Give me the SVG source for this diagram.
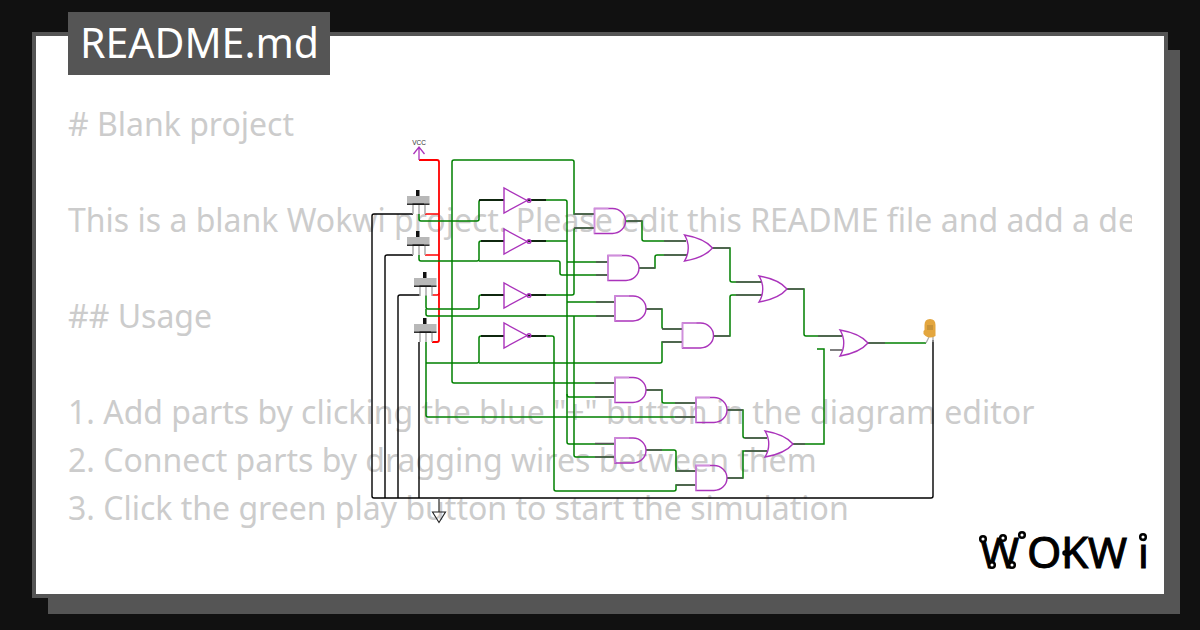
<svg xmlns="http://www.w3.org/2000/svg" width="1200" height="630" viewBox="0 0 1200 630">
<style>
.md{font-family:"Noto Sans","Open Sans",sans-serif;font-size:32px;fill:#cccccc}
.g{fill:none;stroke:#008000;stroke-width:1.500}
.r{fill:none;stroke:#ff0000;stroke-width:1.500}
.k{fill:none;stroke:#000;stroke-width:1.400}
.d{fill:none;stroke:#555;stroke-width:1.500}
.gate{fill:none;stroke:#aa33bb;stroke-width:1.400}
.edge{fill:none;stroke:#cf8fdc;stroke-width:1.400}
.pin{stroke:#aaa;stroke-width:1.500}
</style>
<defs>
<clipPath id="clip"><rect x="36" y="80" width="1096" height="480"/></clipPath>
<g id="and"><path class="gate" d="M0 0H18A13 12.500 0 0 1 18 25H0Z"/><path class="edge" d="M0 25V0H14"/></g>
<g id="or"><path class="gate" d="M0 0C12 2 22 6 28 13C22 20 12 24 0 26C5 18 5 8 0 0Z"/></g>
<g id="not"><path class="gate" d="M0 0V25L23 12.500Z"/><circle class="gate" cx="25" cy="12.500" r="1.800"/></g>
<g id="sw"><rect x="0" y="0" width="22.500" height="8" fill="#b8b8b8"/><rect x="9" y="-6" width="3.500" height="6" fill="#111"/><rect x="0" y="7.500" width="22.500" height="1.500" fill="#333"/><rect x="5.500" y="7.500" width="11.500" height="1.200" fill="#111"/><path class="pin" d="M6 9V18M12 9V18M18 9V18"/></g>
</defs>
<rect width="1200" height="630" fill="#111111"/>
<rect x="48" y="50" width="1132" height="564" fill="#555555"/>
<rect x="34" y="34" width="1132" height="562" fill="#ffffff" stroke="#555555" stroke-width="4"/>
<rect x="68" y="12" width="262" height="63" fill="#555555"/>
<text x="80" y="58" font-family="'Noto Sans','Open Sans',sans-serif" font-size="41" fill="#ffffff">README.md</text>
<g clip-path="url(#clip)">
<text class="md" x="68" y="136"># Blank project</text>
<text class="md" x="68" y="232">This is a blank Wokwi project. Please edit this README file and add a de</text>
<text class="md" x="68" y="328">## Usage</text>
<text class="md" x="68" y="424">1. Add parts by clicking the blue "+" button in the diagram editor</text>
<text class="md" x="68" y="472">2. Connect parts by dragging wires between them</text>
<text class="md" x="68" y="520">3. Click the green play button to start the simulation</text>
</g>
<g id="connectors">
<path class="k" d="M413 214H374Q372 214 372 216V496Q372 498 374 498H931Q933 498 933 496V340"/>
<path class="k" d="M413 255H387Q385 255 385 257V498"/>
<path class="k" d="M420 295H400Q398 295 398 297V498"/>
<path class="k" d="M419 342V498"/>
<path class="d" d="M439 498V512"/>
<path class="r" style="stroke-width:1.800" d="M419 160H437Q439 160 439 162V340Q439 342 437 342H432"/>
<path class="r" d="M425 214H439M425 255H439M432 295H437Q439 295 439 293"/>
<path class="g" d="M419 214V219Q419 221 421 221H477Q479 221 479 219V202Q479 200 481 200H504"/>
<path class="g" d="M419 255V259Q419 261 421 261H477Q479 261 479 259V243Q479 241 481 241H504"/>
<path class="g" d="M479 261H558Q560 261 560 263V273Q560 275 562 275H608"/>
<path class="g" d="M426 295V307Q426 309 428 309H477Q479 309 479 307V297Q479 295 481 295H504"/>
<path class="g" d="M426 309V314Q426 316 428 316H614"/>
<path class="g" d="M426 342V415Q426 417 428 417H696"/>
<path class="g" d="M426 363H477Q479 363 479 361V338Q479 336 481 336H504"/>
<path class="g" d="M479 363H660Q662 363 662 361V342H682"/>
<path class="g" d="M594 214H574V162Q574 160 572 160H454Q452 160 452 162V381Q452 383 454 383H614"/>
<path class="g" d="M527 200H565Q567 200 567 202V442Q567 444 569 444H614"/>
<path class="g" d="M527 241H567M567 262H608M567 302H614"/>
<path class="g" d="M567 394Q567 397 569 397H614"/>
<path class="g" d="M527 295H572Q574 295 574 293V230Q574 228 576 228H594"/>
<path class="g" d="M574 316V455Q574 457 576 457H614"/>
<path class="g" d="M527 336H552Q554 336 554 338V489Q554 491 556 491H674Q676 491 676 489V485H696"/>
<path class="g" d="M626 221H642V239Q642 241 644 241H686"/>
<path class="g" d="M639 268H655V257Q655 255 657 255H687"/>
<path class="g" d="M646 309H662V327Q662 329 664 329H682"/>
<path class="g" d="M712 248H730V280Q730 282 732 282H762"/>
<path class="g" d="M714 336H730V297Q730 295 732 295H762"/>
<path class="g" d="M787 289H804V334Q804 336 806 336H842"/>
<path class="g" d="M868 343H926"/>
<path class="g" d="M646 390H662V401Q662 403 664 403H696"/>
<path class="g" d="M646 450H674Q676 450 676 452V471H696"/>
<path class="g" d="M727 410H743V436Q743 438 745 438H767"/>
<path class="g" d="M727 478H743V451H767"/>
<path class="g" d="M793 444H824V349H817"/>
<path class="k" d="M479 200H504M481 241H504M481 295H504M481 336H504M527 200H546M527 241H546M527 295H546M527 336H546"/>
<path class="d" d="M574 214H594M574 228H594M628 221H642M664 241H686M596 262H608M596 275H608M639 268H655M664 255H687M596 302H614M596 316H614M646 309H662M662 329H682M662 342H682"/>
<path class="d" d="M712 248H730M736 282H762M714 336H730M736 295H762M787 289H804M818 336H842M830 350H842M868 343H885"/>
<path class="d" d="M595 383H614M595 397H614M595 443.500H614M595 457H614M646 390H662M675 403H696M646 450H662M676 471H696M676 485H696M675 417H696M727 410H743M745 438H767M727 478H743M745 451H767M793 444H805"/>
</g>
<g id="vcc"><text x="419" y="145" text-anchor="middle" font-family="'Liberation Sans',sans-serif" font-size="6.500" fill="#333">VCC</text><path d="M419 160V147M413.500 154L419 147L424.500 154" fill="none" stroke="#aa33bb" stroke-width="1.300"/></g>
<g id="gnd"><path d="M432.500 512H445.500L439 522.500Z" fill="none" stroke="#222" stroke-width="1.100"/></g>
<g id="switch1"><use href="#sw" x="407" y="196"/></g>
<g id="switch2"><use href="#sw" x="407" y="237"/></g>
<g id="switch3"><use href="#sw" x="414" y="278"/></g>
<g id="switch4"><use href="#sw" x="414" y="324"/></g>
<g id="not1"><use href="#not" x="504" y="188"/></g>
<g id="not2"><use href="#not" x="504" y="229"/></g>
<g id="not3"><use href="#not" x="504" y="283"/></g>
<g id="not4"><use href="#not" x="504" y="323"/></g>
<g id="and1"><use href="#and" x="594.500" y="208.500"/></g>
<g id="and2"><use href="#and" x="608" y="255.500"/></g>
<g id="and3"><use href="#and" x="615" y="296"/></g>
<g id="and4"><use href="#and" x="682.500" y="323"/></g>
<g id="and5"><use href="#and" x="615" y="377.500"/></g>
<g id="and6"><use href="#and" x="696" y="397.500"/></g>
<g id="and7"><use href="#and" x="615" y="438"/></g>
<g id="and8"><use href="#and" x="696" y="465.500"/></g>
<g id="or1"><use href="#or" x="684.500" y="235"/></g>
<g id="or2"><use href="#or" x="759" y="276"/></g>
<g id="or3"><use href="#or" x="840" y="330"/></g>
<g id="or4"><use href="#or" x="765" y="431"/></g>
<g id="led">
<path d="M926 343L929 337" stroke="#aaa" stroke-width="1.300"/>
<path d="M933 336V342" stroke="#aaa" stroke-width="1.300"/>
<path d="M924.500 325Q924.500 319 930 319Q935.500 319 935.500 325V336Q930 339 925.500 336L923.500 334V331L924.500 330Z" fill="#e3a63e"/>
<rect x="927" y="325" width="6" height="5" fill="#c89338"/>
</g>
<g id="logo">
<text font-family="'Noto Sans','Open Sans',sans-serif" font-size="42" fill="#000" stroke="#000" stroke-width="1" y="568"><tspan x="980">W</tspan><tspan x="1027" font-family="'Liberation Sans Narrow','Noto Sans',sans-serif" font-size="44">O</tspan><tspan x="1061" font-family="'Liberation Sans Narrow','Noto Sans',sans-serif" font-size="44">K</tspan><tspan x="1088">W</tspan><tspan x="1138">i</tspan></text>
<g fill="#fff" stroke="#000" stroke-width="2.500"><circle cx="983" cy="539" r="2.800"/><circle cx="1003" cy="538" r="2.800"/><circle cx="1022" cy="535" r="2.800"/><circle cx="992" cy="565" r="2.800"/><circle cx="1012" cy="565" r="2.800"/><circle cx="1065" cy="553" r="1.500"/><circle cx="1143" cy="537" r="2.800"/></g>
</g>
</svg>
